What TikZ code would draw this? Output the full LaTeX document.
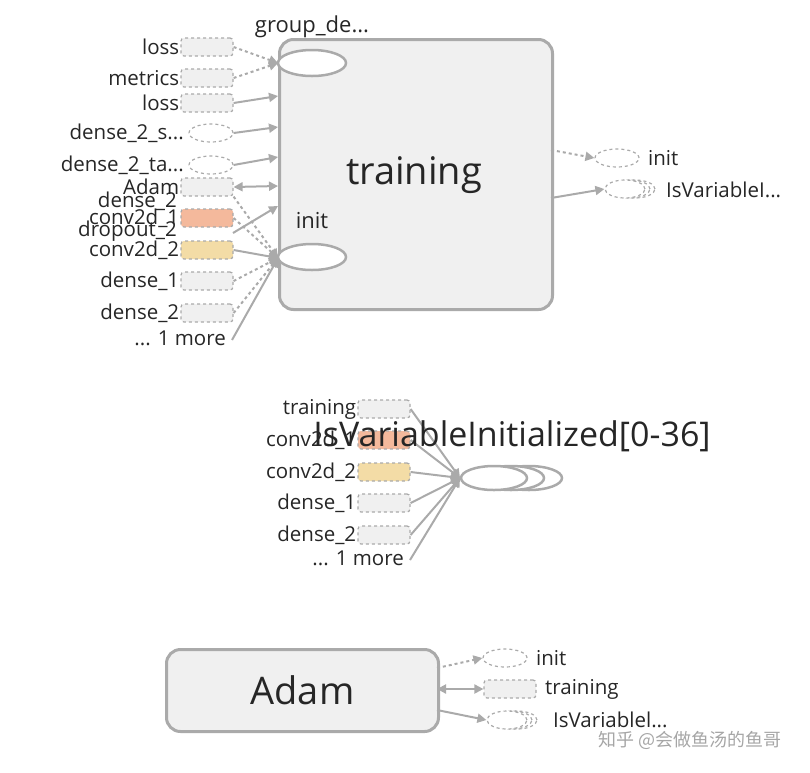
\documentclass[tikz,border=0pt]{standalone}
\usepackage{fontspec}
\setmainfont{Open Sans}
\newfontfamily\cjk{Noto Sans CJK SC}
\usetikzlibrary{arrows.meta,shapes.geometric}
\definecolor{edge}{HTML}{AAAAAA}
\definecolor{boxfill}{HTML}{F0F0F0}
\definecolor{orng}{HTML}{F4B99C}
\definecolor{yell}{HTML}{F3DCA6}
\definecolor{txt}{HTML}{262626}
\tikzset{
 x=1pt,y=-1pt,
 every node/.style={text=txt},
 bigbox/.style={draw=edge,line width=3pt,fill=boxfill,rounded corners=14pt},
 inrect/.style={draw=edge,dashed,line width=1.2pt,fill=boxfill,minimum width=52pt,minimum height=18pt,rounded corners=3pt,inner sep=0},
 inell/.style={draw=edge,dashed,line width=1.2pt,ellipse,minimum width=44pt,minimum height=18pt,inner sep=0},
 opell/.style={draw=edge,line width=2.5pt,ellipse,fill=white,minimum width=68pt,minimum height=26pt,inner sep=0},
 lbl/.style={anchor=east,font=\fontsize{20.5}{20}\selectfont,inner sep=1pt},
 rlbl/.style={anchor=west,font=\fontsize{20.5}{20}\selectfont,inner sep=1pt},
 sarr/.style={draw=edge,line width=2pt,-{Triangle[length=9pt,width=9pt]}},
 darr/.style={draw=edge,line width=2pt,dashed,-{Triangle[length=9pt,width=9pt]}},
 barr/.style={draw=edge,line width=2pt,{Triangle[length=9pt,width=9pt]}-{Triangle[length=9pt,width=9pt]}},
}
\begin{document}
\begin{tikzpicture}
\useasboundingbox (0,0) rectangle (810,772);
% ---------- top group
\node[bigbox,minimum width=273pt,minimum height=270pt,anchor=north west] (train) at (278,38) {};
\node[font=\fontsize{38}{38}\selectfont] (tl) at (414,175) {training};
\node[opell] (grp) at (312,63) {};
\node[font=\fontsize{22}{22}\selectfont] (grpl) at (312,27) {group\_de...};
\node[opell] (ini) at (312,257) {};
\node[font=\fontsize{22}{22}\selectfont] (inil) at (312,221) {init};
\coordinate (gin) at (278,63);
\coordinate (iin) at (278,258);
\coordinate (e1) at (278,96);
\coordinate (e2) at (278,127);
\coordinate (e3) at (278,157);
\coordinate (e4) at (278,186);
\coordinate (e5) at (278,206);
% inputs
\node[inrect] (a1) at (207,47) {}; \node[lbl] at (a1.west) {loss\ };
\node[inrect] (a2) at (207,78) {}; \node[lbl] at (a2.west) {metrics\ };
\node[inrect] (a3) at (207,103) {}; \node[lbl] at (a3.west) {loss\ };
\node[inell] (a4) at (211,133) {}; \node[lbl] at (185,133) {dense\_2\_s...};
\node[inell] (a5) at (211,165) {}; \node[lbl] at (185,165) {dense\_2\_ta...};
\node[inrect] (a6) at (207,187) {}; \node[lbl] at (a6.west) {Adam\ };
\node[lbl] (a7l) at (178,201) {dense\_2\ };
\node[inrect,fill=orng] (a8) at (207,218) {}; \node[lbl] at (a8.west) {conv2d\_1\ };
\node[lbl] (a9l) at (178,231) {dropout\_2\ };
\node[inrect,fill=yell] (a10) at (207,250) {}; \node[lbl] at (a10.west) {conv2d\_2\ };
\node[inrect] (a11) at (207,281) {}; \node[lbl] at (a11.west) {dense\_1\ };
\node[inrect] (a12) at (207,313) {}; \node[lbl] at (a12.west) {dense\_2\ };
\node[lbl] (a13) at (227,338) {... 1 more};
\coordinate (a9) at (233,233);
\coordinate (a13e) at (232,340);
\draw[darr] (a1.east) -- (gin);
\draw[darr] (a2.east) -- (gin);
\draw[sarr] (a3.east) -- (e1);
\draw[sarr] (a4.east) -- (e2);
\draw[sarr] (a5.east) -- (e3);
\draw[barr] (a6.east) -- (e4);
\draw[darr] (a6.south east) -- (iin);
\draw[darr] (a8.east) -- (iin);
\draw[sarr] (a9) -- (e5);
\draw[sarr] (a10.east) -- (iin);
\draw[darr] (a11.east) -- (iin);
\draw[darr] (a12.east) -- (iin);
\draw[sarr] (a13e) -- (iin);
% outputs
\node[inell] (o1) at (617,158) {};
\node[rlbl] at (647,158) {init};
\node[inell,minimum width=40pt] (o2c) at (635,189) {};
\node[inell,minimum width=40pt] (o2b) at (630,189) {};
\node[inell,minimum width=40pt,fill=white] (o2) at (625,189) {};
\node[rlbl] at (665,190) {IsVariableI...};
\coordinate (t1) at (551,150);
\coordinate (t2) at (551,198);
\draw[darr] (t1) -- (o1.west);
\draw[sarr] (t2) -- (o2.west);
% ---------- middle
\node[opell,minimum width=66pt,minimum height=24pt] (m3) at (529,478) {};
\node[opell,minimum width=66pt,minimum height=24pt] (m2) at (511,478) {};
\node[opell,minimum width=66pt,minimum height=24pt] (m1) at (494,478) {};
\coordinate (min) at (460,478);
\node[inrect] (b1) at (384,409) {}; \node[lbl] at (b1.west) {training\ };
\node[inrect,fill=orng] (b2) at (384,440) {}; \node[lbl] at (b2.west) {conv2d\_1\ };
\node[inrect,fill=yell] (b3) at (384,472) {}; \node[lbl] at (b3.west) {conv2d\_2\ };
\node[inrect] (b4) at (384,503) {}; \node[lbl] at (b4.west) {dense\_1\ };
\node[inrect] (b5) at (384,535) {}; \node[lbl] at (b5.west) {dense\_2\ };
\node[lbl] (b6) at (405,558) {... 1 more};
\coordinate (b6e) at (410,560);
\foreach \n in {b1,b2,b3,b4,b5} \draw[sarr] (\n.east) -- (min);
\draw[sarr] (b6e) -- (min);
\node[font=\fontsize{34}{34}\selectfont] (ml) at (512,436) {IsVariableInitialized[0-36]};
% ---------- bottom
\node[bigbox,minimum width=272pt,minimum height=82pt,anchor=north west] (adam) at (165,648) {};
\node[font=\fontsize{38}{38}\selectfont] at (adam.center) {Adam};
\node[inell] (c1) at (505,658) {}; \node[rlbl] at (535,658) {init};
\node[inrect] (c2) at (510,689) {}; \node[rlbl] at (544,689) {training};
\node[inell,minimum width=40pt] (c3c) at (517,720) {};
\node[inell,minimum width=40pt] (c3b) at (512,720) {};
\node[inell,minimum width=40pt,fill=white] (c3) at (507,720) {};
\node[rlbl] at (552,720) {IsVariablel...};
\coordinate (d1) at (437,668);
\coordinate (d2) at (437,689);
\coordinate (d3) at (437,710);
\draw[darr] (d1) -- (c1.west);
\draw[barr] (d2) -- (c2.west);
\draw[sarr] (d3) -- (c3.west);
\node[text=gray!70,font=\cjk\fontsize{18}{18}\selectfont] (wm) at (690,740) {知乎 @会做鱼汤的鱼哥};
\end{tikzpicture}
\end{document}
